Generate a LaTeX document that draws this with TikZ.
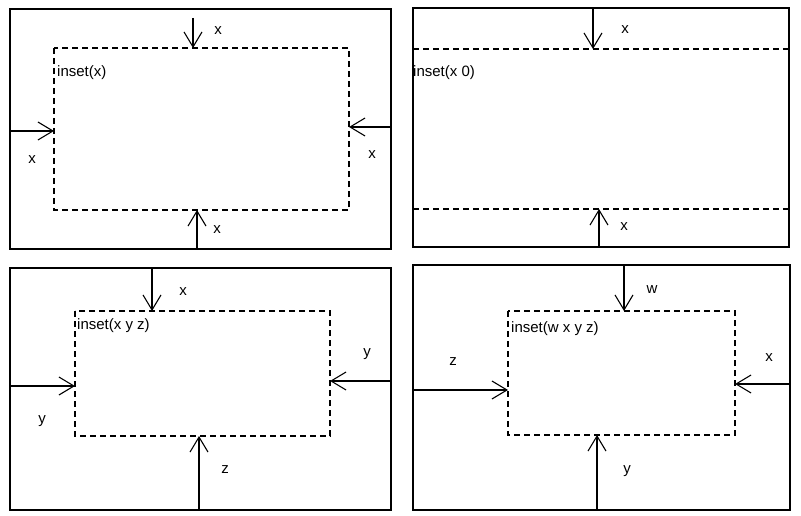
\documentclass[tikz,border=0pt]{standalone}
\usepackage{fontspec}
\setmainfont{Liberation Sans}
\usetikzlibrary{arrows.meta}
\begin{document}
\begin{tikzpicture}[x=1pt,y=-1pt,
  box/.style={draw,line width=1.3pt},
  inset/.style={draw,line width=1.5pt,dash pattern=on 6pt off 4pt},
  arr/.style={draw,line width=1.1pt,-{Straight Barb[length=15pt,width=18pt]}},
  lbl/.style={font=\fontsize{15}{17}\selectfont,inner sep=0pt},
  ttl/.style={font=\fontsize{15}{17}\selectfont,inner sep=0pt,anchor=west}]
\useasboundingbox (0,0) rectangle (801,516);
% panel 1
\draw[box] (10,9) rectangle (391,249);
\draw[inset] (54,48) rectangle (349,210);
\node[ttl] (t1) at (57,73) {inset(x)};
\coordinate (a1) at (193,18); \coordinate (b1) at (193,48);
\draw[arr] (a1) -- (b1); \node[lbl] (l1) at (218,31) {x};
\coordinate (a2) at (10,131); \coordinate (b2) at (54,131);
\draw[arr] (a2) -- (b2); \node[lbl] (l2) at (32,160) {x};
\coordinate (a3) at (391,127); \coordinate (b3) at (349,127);
\draw[arr] (a3) -- (b3); \node[lbl] (l3) at (372,155) {x};
\coordinate (a4) at (197,249); \coordinate (b4) at (197,210);
\draw[arr] (a4) -- (b4); \node[lbl] (l4) at (217,230) {x};
% panel 2
\draw[box] (413,8) rectangle (789,247);
\draw[inset] (413,49) -- (789,49);
\draw[inset] (413,209) -- (789,209);
\node[ttl] (t2) at (413,73) {inset(x 0)};
\coordinate (a5) at (593,8); \coordinate (b5) at (593,49);
\draw[arr] (a5) -- (b5); \node[lbl] (l5) at (625,30) {x};
\coordinate (a6) at (599,247); \coordinate (b6) at (599,209);
\draw[arr] (a6) -- (b6); \node[lbl] (l6) at (624,227) {x};
% panel 3
\draw[box] (10,268) rectangle (391,510);
\draw[inset] (75,311) rectangle (330,436);
\node[ttl] (t3) at (77,326) {inset(x y z)};
\coordinate (a7) at (152,268); \coordinate (b7) at (152,311);
\draw[arr] (a7) -- (b7); \node[lbl] (l7) at (183,292) {x};
\coordinate (a8) at (10,386); \coordinate (b8) at (75,386);
\draw[arr] (a8) -- (b8); \node[lbl] (l8) at (42,421) {y};
\coordinate (a9) at (391,381); \coordinate (b9) at (330,381);
\draw[arr] (a9) -- (b9); \node[lbl] (l9) at (367,354) {y};
\coordinate (a10) at (199,510); \coordinate (b10) at (199,436);
\draw[arr] (a10) -- (b10); \node[lbl] (l10) at (225,470) {z};
% panel 4
\draw[box] (413,265) rectangle (790,510);
\draw[inset] (508,311) rectangle (735,435);
\node[ttl] (t4) at (511,329) {inset(w x y z)};
\coordinate (a11) at (624,265); \coordinate (b11) at (624,311);
\draw[arr] (a11) -- (b11); \node[lbl] (l11) at (652,290) {w};
\coordinate (a12) at (413,390); \coordinate (b12) at (508,390);
\draw[arr] (a12) -- (b12); \node[lbl] (l12) at (453,362) {z};
\coordinate (a13) at (790,384); \coordinate (b13) at (735,384);
\draw[arr] (a13) -- (b13); \node[lbl] (l13) at (769,358) {x};
\coordinate (a14) at (597,510); \coordinate (b14) at (597,435);
\draw[arr] (a14) -- (b14); \node[lbl] (l14) at (627,471) {y};
\end{tikzpicture}
\end{document}
